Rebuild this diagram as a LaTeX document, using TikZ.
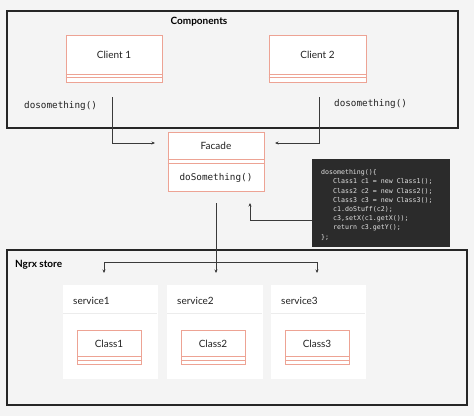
\documentclass[tikz,border=0pt]{standalone}
\usepackage{fontspec}
\setmainfont{Lato}
\setmonofont{DejaVu Sans Mono}
\usetikzlibrary{arrows.meta,calc}
\definecolor{bgc}{HTML}{F4F4F4}
\definecolor{salmon}{HTML}{EDA394}
\definecolor{codebg}{HTML}{2B2B2B}
\definecolor{codetx}{HTML}{E2E2E2}
\definecolor{linec}{HTML}{3A3A3A}
\definecolor{txt}{HTML}{222222}
\definecolor{divc}{HTML}{ECECEC}
\tikzset{
  x=1pt,y=-1pt,
  frame/.style={draw=black!85,line width=1.3pt,fill=bgc},
  umlbox/.style={draw=salmon,line width=0.7pt,fill=white,inner sep=0pt},
  sep/.style={draw=salmon,line width=0.7pt},
  svcbox/.style={draw=white,fill=white,inner sep=0pt},
  lbl/.style={font=\fontsize{10}{12}\selectfont,text=txt,inner sep=0pt},
  blbl/.style={font=\fontsize{10}{12}\selectfont\bfseries,text=black,inner sep=0pt},
  mono/.style={font=\ttfamily\fontsize{9.3}{11}\selectfont,text=txt,inner sep=0pt},
  conn/.style={draw=linec,line width=0.6pt},
  arr/.style={conn,-{Stealth[length=3.5pt,width=3pt]}},
}
\begin{document}
\begin{tikzpicture}
\fill[bgc] (0,0) rectangle (474,416);
\useasboundingbox (0,0) rectangle (474,416);
% Components frame
\draw[frame] (7,11) rectangle (458,128);
\node[blbl] (comp) at (199,22) {Components};
% Clients
\node[umlbox,minimum width=96pt,minimum height=47pt] (c1) at (114,58.5) {};
\draw[sep] ($(c1.south west)+(0,-8)$) -- ($(c1.south east)+(0,-8)$);
\draw[sep] ($(c1.south west)+(0,-5)$) -- ($(c1.south east)+(0,-5)$);
\node[lbl] (c1t) at (114,55) {Client 1};
\node[umlbox,minimum width=97pt,minimum height=47pt] (c2) at (317.5,58.5) {};
\draw[sep] ($(c2.south west)+(0,-8)$) -- ($(c2.south east)+(0,-8)$);
\draw[sep] ($(c2.south west)+(0,-5)$) -- ($(c2.south east)+(0,-5)$);
\node[lbl] (c2t) at (317.5,55) {Client 2};
\node[mono,anchor=west] (d1) at (24,106) {dosomething()};
\node[mono,anchor=west] (d2) at (334,104) {dosomething()};
% Facade
\node[umlbox,minimum width=96pt,minimum height=59pt] (fac) at (216,161.5) {};
\draw[sep] (fac.west |- 0,159) -- (fac.east |- 0,159);
\draw[sep] (fac.west |- 0,163) -- (fac.east |- 0,163);
\node[lbl] (fact) at (216,146) {Facade};
\node[mono] (facm) at (216,177.5) {doSomething()};
% connectors from clients
\coordinate (s1) at (112,97);
\coordinate (e1) at (155,143);
\coordinate (s2) at (319,97);
\coordinate (e2) at (275,143);
\draw[arr] (s1) |- (e1);
\draw[arr] (s2) |- (e2);
% code box
\node[fill=codebg,minimum width=138pt,minimum height=88pt,inner sep=0pt] (code) at (381,203) {};
\node[anchor=north west,inner sep=0pt,text=codetx,font=\ttfamily\fontsize{6.6}{9.2}\selectfont,align=left] (codet) at (321,169.5)
{dosomething()\{\\
\hspace*{12pt}Class1 c1 = new Class1();\\
\hspace*{12pt}Class2 c2 = new Class2();\\
\hspace*{12pt}Class3 c3 = new Class3();\\
\hspace*{12pt}c1.doStuff(c2);\\
\hspace*{12pt}c3,setX(c1.getX());\\
\hspace*{12pt}return c3.getY();\\
\};};
\coordinate (ce) at (250,203);
\draw[arr] (code.west |- 0,220) -| (ce);
% Ngrx store frame
\draw[frame] (7,250) rectangle (467,405);
\node[blbl,anchor=west] (ngrx) at (15,265) {Ngrx store};
% services
\foreach \i/\xa/\xb/\ca/\cb in {1/63/157/77/141, 2/167/262/181/245, 3/271/365/285/349}{
  \node[svcbox,minimum width={\xb-\xa},minimum height=93pt] (sv\i) at ({(\xa+\xb)/2},331.5) {};
  \draw[divc,line width=0.8pt] (\xa,313) -- (\xb,313);
  \node[lbl,anchor=west] (sv\i t) at (\xa+10,301) {service\i};
  \node[umlbox,minimum width={\cb-\ca},minimum height=34pt] (cl\i) at ({(\ca+\cb)/2},347) {};
  \draw[sep] (\ca,356) -- (\cb,356);
  \draw[sep] (\ca,360) -- (\cb,360);
  \node[lbl] (cl\i t) at ({(\ca+\cb)/2},343.5) {Class\i};
}
% connectors to services
\coordinate (fb) at (216,203);
\coordinate (jn) at (216,262);
\coordinate (a1) at (104,273);
\coordinate (a2) at (216,273);
\coordinate (a3) at (317,273);
\draw[conn] (fb) -- (jn);
\draw[conn] (a1 |- jn) -- (a3 |- jn);
\draw[arr] (a1 |- jn) -- (a1);
\draw[arr] (jn) -- (a2);
\draw[arr] (a3 |- jn) -- (a3);
\end{tikzpicture}
\end{document}
